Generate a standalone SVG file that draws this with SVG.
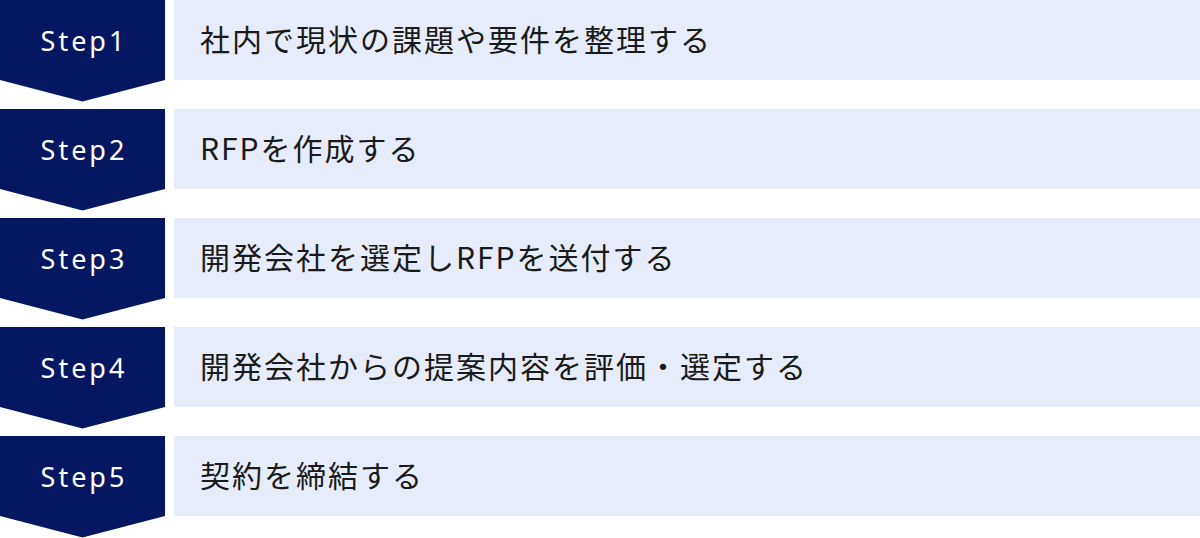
<svg xmlns="http://www.w3.org/2000/svg" width="1200" height="538" viewBox="0 0 1200 538">
<style>
.chev{fill:#041760}
.box{fill:#e6ecf9}
.step{font-family:"Noto Sans","Noto Sans CJK JP",sans-serif;font-weight:400;font-size:27px;fill:#ffffff;letter-spacing:3px;text-anchor:middle}
.lbl{font-family:"Noto Sans CJK JP","Noto Sans",sans-serif;font-size:30px;fill:#1a1a1a;letter-spacing:2px}
</style>
<defs>
<polygon id="chevShape" points="0,0 165,0 165,80 82.5,101.5 0,80"/>
</defs>
<rect width="1200" height="538" fill="#ffffff"/>
<g id="connectors"></g>
<g id="step1" transform="translate(0,0)">
<use href="#chevShape" class="chev"/>
<rect class="box" x="174" y="0" width="1026" height="80"/>
<text class="step" x="84" y="51">Step1</text>
<text class="lbl" x="200" y="51">社内で現状の課題や要件を整理する</text>
</g>
<g id="step2" transform="translate(0,109)">
<use href="#chevShape" class="chev"/>
<rect class="box" x="174" y="0" width="1026" height="80"/>
<text class="step" x="84" y="51">Step2</text>
<text class="lbl" x="200" y="51">RFPを作成する</text>
</g>
<g id="step3" transform="translate(0,218)">
<use href="#chevShape" class="chev"/>
<rect class="box" x="174" y="0" width="1026" height="80"/>
<text class="step" x="84" y="51">Step3</text>
<text class="lbl" x="200" y="51">開発会社を選定しRFPを送付する</text>
</g>
<g id="step4" transform="translate(0,327)">
<use href="#chevShape" class="chev"/>
<rect class="box" x="174" y="0" width="1026" height="80"/>
<text class="step" x="84" y="51">Step4</text>
<text class="lbl" x="200" y="51">開発会社からの提案内容を評価・選定する</text>
</g>
<g id="step5" transform="translate(0,436)">
<use href="#chevShape" class="chev"/>
<rect class="box" x="174" y="0" width="1026" height="80"/>
<text class="step" x="84" y="51">Step5</text>
<text class="lbl" x="200" y="51">契約を締結する</text>
</g>
</svg>
